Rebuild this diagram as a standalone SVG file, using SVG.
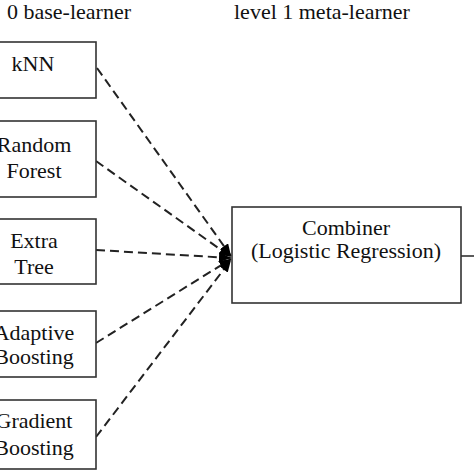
<svg xmlns="http://www.w3.org/2000/svg" width="474" height="474" viewBox="0 0 474 474">
<defs>
<style>
.box{fill:#fff;stroke:#333;stroke-width:1.6}
.t{font-family:"Liberation Serif","Times New Roman",serif;font-size:22px;fill:#111}
.m{text-anchor:middle}
.dash{fill:none;stroke:#222;stroke-width:2;stroke-dasharray:9,5}
.solid{fill:none;stroke:#333;stroke-width:1.6}
</style>
<marker id="ah" viewBox="0 0 12 10" refX="12" refY="5" markerWidth="12" markerHeight="10" markerUnits="userSpaceOnUse" orient="auto">
<path d="M0,0 L12,5 L0,10 z" fill="#000"/>
</marker>
</defs>
<rect width="474" height="474" fill="#fff"/>
<text class="t" x="7" y="19">0 base-learner</text>
<text class="t" x="234" y="19">level 1 meta-learner</text>
<g id="connectors">
<line class="dash" x1="97" y1="68" x2="231" y2="256" marker-end="url(#ah)"/>
<line class="dash" x1="96" y1="161" x2="231" y2="257" marker-end="url(#ah)"/>
<line class="dash" x1="96" y1="250" x2="231" y2="258" marker-end="url(#ah)"/>
<line class="dash" x1="96" y1="343" x2="231" y2="259" marker-end="url(#ah)"/>
<line class="dash" x1="96" y1="437" x2="231" y2="260" marker-end="url(#ah)"/>
<line class="solid" x1="461" y1="256" x2="474" y2="256"/>
</g>
<g id="knn">
<rect class="box" x="-30" y="42" width="126" height="56"/>
<text class="t m" x="33" y="71">kNN</text>
</g>
<g id="random-forest">
<rect class="box" x="-30" y="121" width="126" height="76"/>
<text class="t m" x="34" y="152">Random</text>
<text class="t m" x="34" y="178">Forest</text>
</g>
<g id="extra-tree">
<rect class="box" x="-30" y="219" width="126" height="65"/>
<text class="t m" x="34" y="248">Extra</text>
<text class="t m" x="34" y="274">Tree</text>
</g>
<g id="adaptive-boosting">
<rect class="box" x="-30" y="311" width="126" height="66"/>
<text class="t m" x="34" y="340">Adaptive</text>
<text class="t m" x="34" y="364">Boosting</text>
</g>
<g id="gradient-boosting">
<rect class="box" x="-30" y="400" width="126" height="69"/>
<text class="t m" x="34" y="428">Gradient</text>
<text class="t m" x="34" y="455">Boosting</text>
</g>
<g id="combiner">
<rect class="box" x="232" y="207" width="229" height="96"/>
<text class="t m" x="346" y="235">Combiner</text>
<text class="t m" x="346" y="258">(Logistic Regression)</text>
</g>
</svg>
